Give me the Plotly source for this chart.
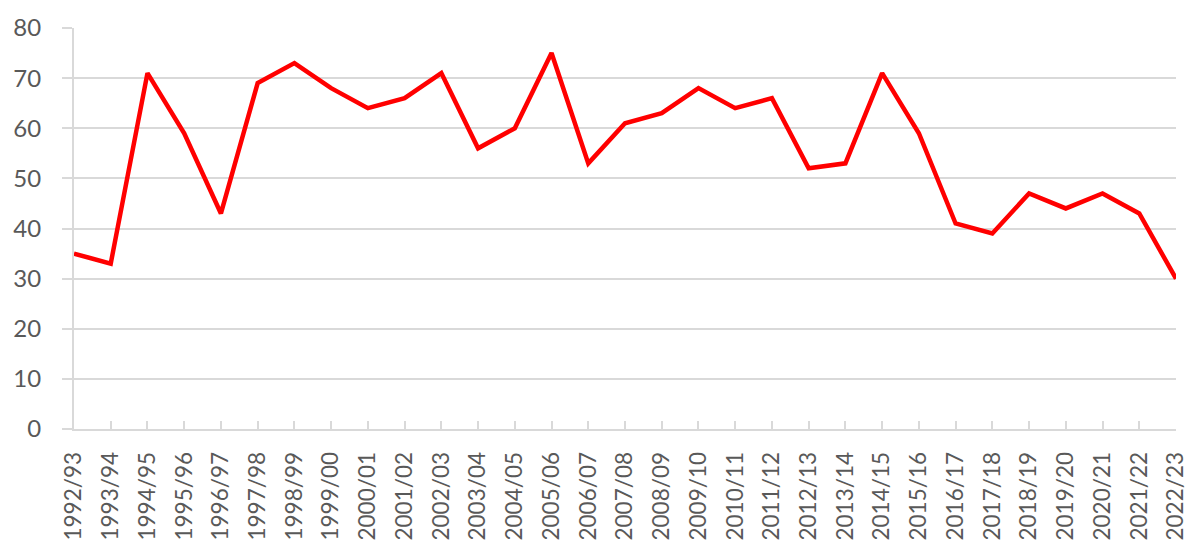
import plotly.graph_objects as go

seasons = ["1992/93", "1993/94", "1994/95", "1995/96", "1996/97", "1997/98", "1998/99",
           "1999/00", "2000/01", "2001/02", "2002/03", "2003/04", "2004/05", "2005/06",
           "2006/07", "2007/08", "2008/09", "2009/10", "2010/11", "2011/12", "2012/13",
           "2013/14", "2014/15", "2015/16", "2016/17", "2017/18", "2018/19", "2019/20",
           "2020/21", "2021/22", "2022/23"]
values = [35, 33, 71, 59, 43, 69, 73, 68, 64, 66, 71, 56, 60, 75, 53, 61, 63, 68, 64, 66,
          52, 53, 71, 59, 41, 39, 47, 44, 47, 43, 30]
y_ticks = [0, 10, 20, 30, 40, 50, 60, 70, 80]

fig = go.Figure()
fig.add_trace(go.Scatter(x=seasons, y=values, mode="lines",
                         line=dict(color="#FF0000", width=4.5), hoverinfo="x+y"))

font = dict(family="Lato, 'Open Sans', sans-serif", size=24, color="#595959")
xfont = dict(family="Lato, 'Open Sans', sans-serif", size=22.5, color="#595959")
fig.update_layout(
    width=1200, height=556,
    margin=dict(l=74, r=24, t=28, b=127),
    paper_bgcolor="white", plot_bgcolor="white",
    showlegend=False,
    font=font,
)
fig.update_xaxes(
    type="category", range=[0, len(seasons) - 1],
    tickangle=-90, tickfont=xfont, automargin=False,
    showgrid=False, showline=True, linecolor="#D9D9D9", linewidth=2,
    ticks="inside", ticklen=8, tickcolor="#D9D9D9", tickwidth=2,
    ticklabelstandoff=12, zeroline=False,
)
fig.update_yaxes(
    range=[0, 80], tickvals=y_ticks, tickfont=font, automargin=False,
    showgrid=True, gridcolor="#D9D9D9", gridwidth=2,
    showline=True, linecolor="#D9D9D9", linewidth=2,
    ticks="outside", ticklen=10, tickcolor="#D9D9D9", tickwidth=2,
    ticklabelstandoff=16, zeroline=False,
)
fig.write_html("out.html", config={"displayModeBar": False},
               post_script="document.body.style.margin='0';document.body.style.overflow='hidden';")
